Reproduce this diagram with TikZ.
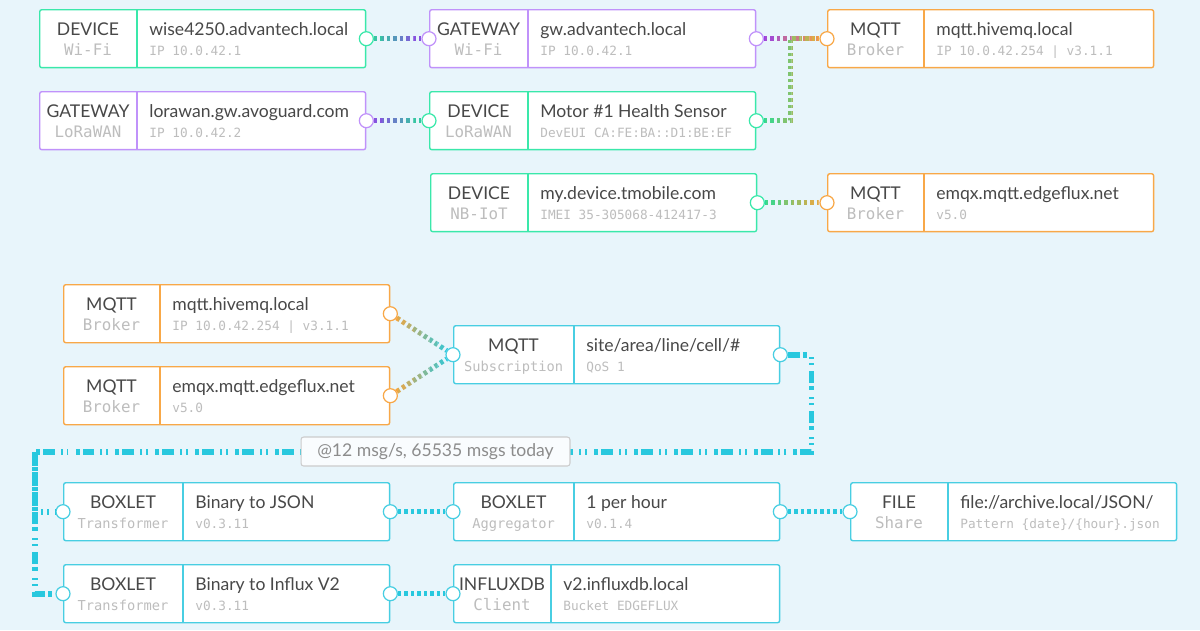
\documentclass[tikz,border=0pt]{standalone}
\usepackage{fontspec}
\setmainfont{Lato}
\newfontfamily\codefont{DejaVu Sans Mono}
\usetikzlibrary{calc}
\definecolor{bgblue}{RGB}{232,245,251}
\definecolor{devgreen}{RGB}{58,232,170}
\definecolor{gwpurple}{RGB}{192,146,250}
\definecolor{mqorange}{RGB}{248,168,72}
\definecolor{bxcyan}{RGB}{72,206,226}
\definecolor{lgreen}{RGB}{38,220,150}
\definecolor{lpurple}{RGB}{150,60,235}
\definecolor{lorange}{RGB}{245,165,60}
\definecolor{lcyan}{RGB}{40,200,222}
\definecolor{ink}{RGB}{72,72,72}
\definecolor{mute}{RGB}{189,189,189}
\newcommand{\narrow}{\fontsize{7.8pt}{9pt}\selectfont}

% #1 name, #2 top left, #3 colour, #4 left cell width, #5 kind, #6 type, #7 value, #8 detail
\newcommand{\unitcard}[8]{%
  \node[card=#3] (#1) at (#2) {};
  \draw[#3, line width=0.8pt] ($(#1.north west)+(#4,0)$) -- ($(#1.south west)+(#4,0)$);
  \node[kind] (#1-kind) at ($(#1.north west)+(#4/2,26)$) {#5};
  \node[sub] (#1-sub) at ($(#1.north west)+(#4/2,46)$) {#6};
  \node[valtext] (#1-val) at ($(#1.north west)+(#4+12,26)$) {#7};
  \node[detail] (#1-detail) at ($(#1.north west)+(#4+12,46)$) {#8};
}

% #1, #2 ports, #3 -> #4 colours, #5 path; colour blends over eight strips
\newcommand{\flowlink}[5]{%
  \foreach \k in {0,...,7}{
    \pgfmathtruncatemacro\mixpct{100-100*\k/7}
    \begin{scope}
      \clip ($(#1)!\k/8!(#2)+(0,-100)$) rectangle ($(#1)!\k/8+1/8!(#2)+(0,100)$);
      \draw[link, #3!\mixpct!#4] #5;
    \end{scope}}%
}

\begin{document}
\begin{tikzpicture}[x=0.02cm, y=-0.02cm,
   card/.style={draw=#1, fill=white, line width=0.8pt, rounded corners=1.2pt,
                minimum width=6.52cm, minimum height=1.16cm, inner sep=0pt, anchor=north west},
   kind/.style={anchor=base, text=ink, font=\fontsize{10pt}{12pt}\selectfont, inner sep=0pt},
   sub/.style={anchor=base, text=mute, font=\codefont\fontsize{9pt}{11pt}\selectfont, inner sep=0pt},
   valtext/.style={anchor=base west, text=ink, font=\fontsize{10pt}{12pt}\selectfont, inner sep=0pt},
   detail/.style={anchor=base west, text=mute, font=\codefont\fontsize{7.25pt}{9pt}\selectfont, inner sep=0pt},
   port/.style={circle, draw=#1, fill=white, line width=0.7pt, minimum size=0.28cm, inner sep=0pt},
   link/.style={line width=2.8pt, dash pattern=on 2pt off 1.7pt},
   pipe/.style={lcyan, line width=3.2pt,
                dash pattern=on 6.8pt off 1.7pt on 2.3pt off 4pt on 1.1pt off 2.3pt on 1.1pt off 3.4pt},
   ratetag/.style={draw=black!20, fill=white!75!bgblue, line width=0.6pt, rounded corners=1.5pt,
                   text=black!45, font=\fontsize{10pt}{12pt}\selectfont,
                   minimum width=5.38cm, minimum height=0.58cm, inner sep=0pt}]

 \fill[bgblue] (0,0) rectangle (1200,630);
 \useasboundingbox (0,0) rectangle (1200,630);

 % devices, gateways and brokers
 \unitcard{devwifi}{39,9}{devgreen}{98}{DEVICE}{Wi-Fi}{wise4250.advantech.local}{IP 10.0.42.1}
 \unitcard{gwwifi}{429,9}{gwpurple}{99}{GATEWAY}{Wi-Fi}{gw.advantech.local}{IP 10.0.42.1}
 \unitcard{brokerA}{827,9}{mqorange}{97}{MQTT}{Broker}{mqtt.hivemq.local}{IP 10.0.42.254 | v3.1.1}
 \unitcard{gwlora}{39,91}{gwpurple}{98}{GATEWAY}{LoRaWAN}{lorawan.gw.avoguard.com}{IP 10.0.42.2}
 \unitcard{devlora}{429,91}{devgreen}{99}{DEVICE}{LoRaWAN}{Motor \#1 Health Sensor}{DevEUI CA:FE:BA::D1:BE:EF}
 \unitcard{devnb}{430,173}{devgreen}{98}{DEVICE}{NB-IoT}{my.device.tmobile.com}{IMEI 35-305068-412417-3}
 \unitcard{brokerB}{827,173}{mqorange}{97}{MQTT}{Broker}{emqx.mqtt.edgeflux.net}{v5.0}

 % flow
 \unitcard{broker1}{63,284}{mqorange}{97}{MQTT}{Broker}{mqtt.hivemq.local}{IP 10.0.42.254 | v3.1.1}
 \unitcard{broker2}{63,366}{mqorange}{97}{MQTT}{Broker}{emqx.mqtt.edgeflux.net}{v5.0}
 \unitcard{sub}{453,325}{bxcyan}{121}{MQTT}{\narrow Subscription}{site/area/line/cell/\#}{QoS 1}
 \unitcard{trans1}{63,482}{bxcyan}{120}{BOXLET}{\narrow Transformer}{Binary to JSON}{v0.3.11}
 \unitcard{trans2}{63,564}{bxcyan}{120}{BOXLET}{\narrow Transformer}{Binary to Influx V2}{v0.3.11}
 \unitcard{agg}{453,482}{bxcyan}{121}{BOXLET}{\narrow Aggregator}{1 per hour}{v0.1.4}
 \unitcard{influx}{453,564}{bxcyan}{98}{INFLUXDB}{Client}{v2.influxdb.local}{Bucket EDGEFLUX}
 \unitcard{file}{850,482}{bxcyan}{98}{FILE}{Share}{file://archive.local/JSON/}{Pattern \{date\}/\{hour\}.json}

 % ports
 \node[port=devgreen] (devwifiR) at (devwifi.east) {};
 \node[port=gwpurple] (gwwifiL) at (gwwifi.west) {};
 \node[port=gwpurple] (gwwifiR) at (gwwifi.east) {};
 \node[port=mqorange] (brokerAL) at (brokerA.west) {};
 \node[port=gwpurple] (gwloraR) at (gwlora.east) {};
 \node[port=devgreen] (devloraL) at (devlora.west) {};
 \node[port=devgreen] (devloraR) at (devlora.east) {};
 \node[port=devgreen] (devnbR) at (devnb.east) {};
 \node[port=mqorange] (brokerBL) at (brokerB.west) {};
 \node[port=mqorange] (broker1R) at (broker1.east) {};
 \node[port=mqorange] (broker2R) at (broker2.east) {};
 \node[port=bxcyan] (subL) at (sub.west) {};
 \node[port=bxcyan] (subR) at (sub.east) {};
 \node[port=bxcyan] (trans1L) at (trans1.west) {};
 \node[port=bxcyan] (trans1R) at (trans1.east) {};
 \node[port=bxcyan] (trans2L) at (trans2.west) {};
 \node[port=bxcyan] (trans2R) at (trans2.east) {};
 \node[port=bxcyan] (aggL) at (agg.west) {};
 \node[port=bxcyan] (aggR) at (agg.east) {};
 \node[port=bxcyan] (influxL) at (influx.west) {};
 \node[port=bxcyan] (fileL) at (file.west) {};
 \coordinate (pipetop) at (35,452);

 % connectors
 \flowlink{devwifiR}{gwwifiL}{lgreen}{lpurple}{(devwifiR) -- (gwwifiL)}
 \flowlink{gwwifiR}{brokerAL}{lpurple}{lorange}{(gwwifiR) -- (brokerAL)}
 \flowlink{gwloraR}{devloraL}{lpurple}{lgreen}{(gwloraR) -- (devloraL)}
 \flowlink{devloraR}{brokerAL}{lgreen}{lorange}{(devloraR) -- ++(34,0) |- (brokerAL)}
 \flowlink{devnbR}{brokerBL}{lgreen}{lorange}{(devnbR) -- (brokerBL)}
 \flowlink{broker1R}{subL}{lorange}{lcyan}{(broker1R) -- (subL)}
 \flowlink{broker2R}{subL}{lorange}{lcyan}{(broker2R) -- (subL)}
 \draw[pipe] (subR) -- ++(31,0) |- (pipetop) |- (trans2L);
 \draw[pipe] (pipetop) |- (trans1L);
 \draw[link, lcyan] (trans1R) -- (aggL);
 \draw[link, lcyan] (trans2R) -- (influxL);
 \draw[link, lcyan] (aggR) -- (fileL);

 \node[ratetag] (rate) at (435.5,451.5) {@12 msg/s, 65535 msgs today};
\end{tikzpicture}
\end{document}
